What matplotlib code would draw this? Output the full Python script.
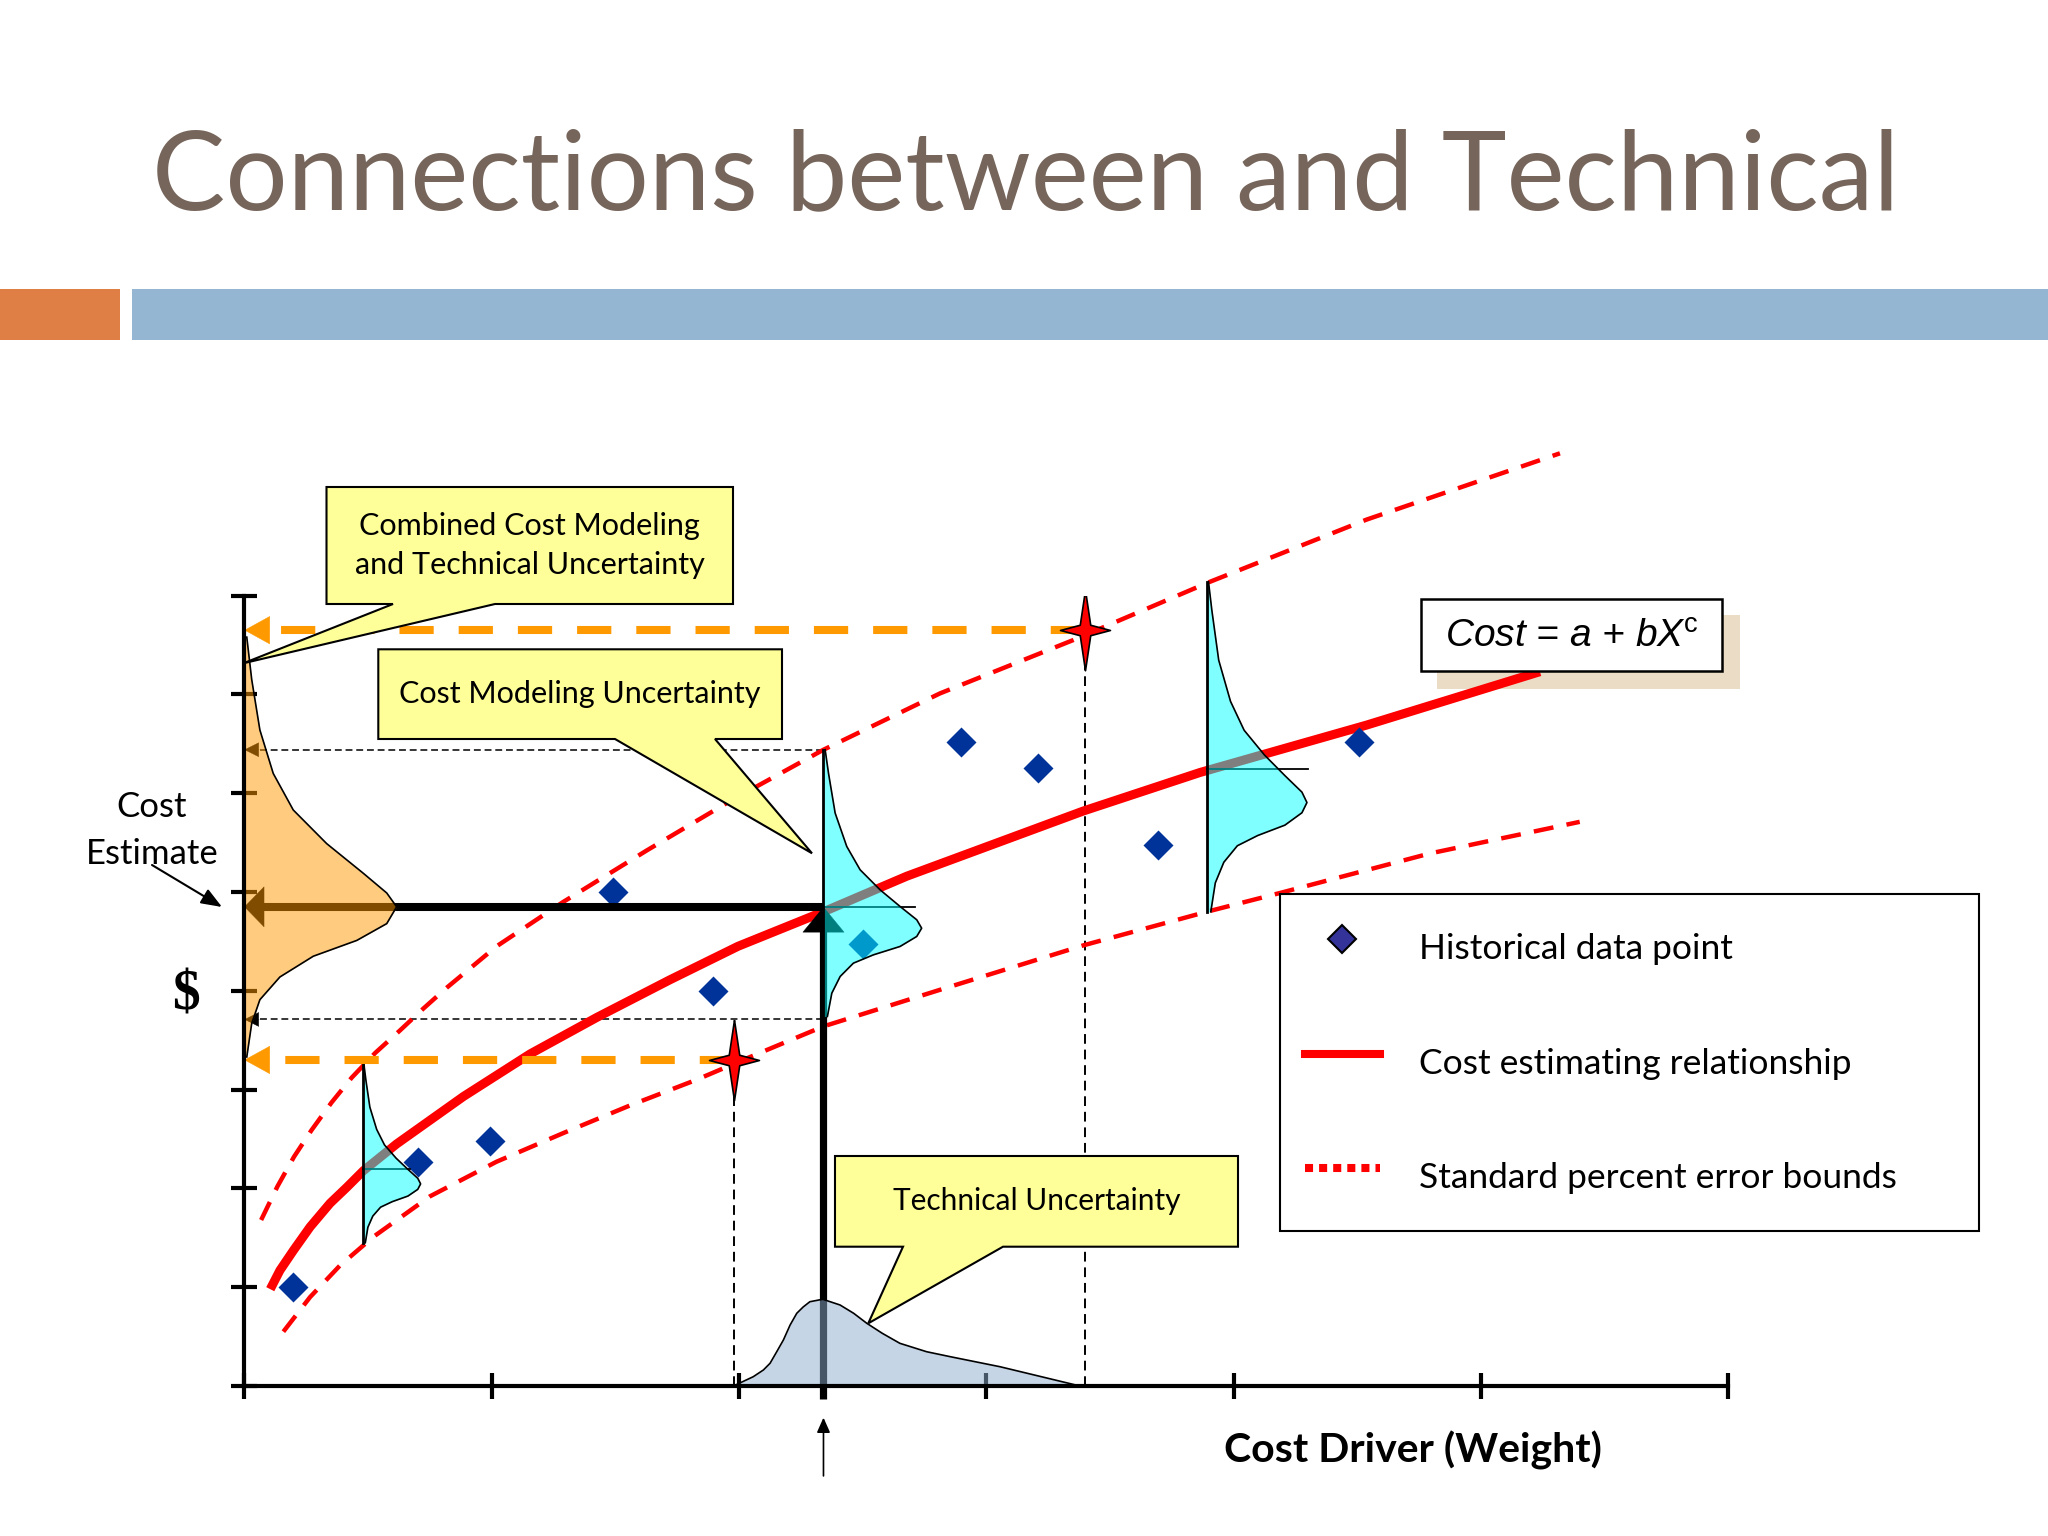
import numpy as np
import matplotlib
matplotlib.use('Agg')
import matplotlib.pyplot as plt
from matplotlib.patches import Rectangle, Polygon
from matplotlib.lines import Line2D

plt.rcParams['font.family'] = ['Lato', 'DejaVu Sans']
plt.rcParams['mathtext.fontset'] = 'custom'
plt.rcParams['mathtext.it'] = 'Liberation Sans'
plt.rcParams['mathtext.rm'] = 'Liberation Sans'

# ---------------- data (x: driver ticks 0..6, y: $ ticks 0..8) ----------------
# historical data points
hist_x = [0.196, 0.704, 0.994, 1.492, 1.894, 2.50, 2.898, 3.211, 3.693, 4.509]
hist_y = [1.005, 2.27, 2.48, 5.00, 4.00, 4.47, 6.52, 6.26, 5.48, 6.52]

# cost estimating relationship (Cost = a + bX^c), points along the red curve
cer_x = [0.105, 0.144, 0.198, 0.266, 0.347, 0.414, 0.482, 0.616, 0.886, 1.155, 1.425, 1.72, 1.996, 2.342,
         2.679, 3.393, 3.865, 4.539, 5.239]
cer_y = [0.98, 1.17, 1.37, 1.61, 1.85, 2.01, 2.18, 2.45, 2.93, 3.36, 3.73, 4.11, 4.45, 4.80,
         5.16, 5.82, 6.21, 6.69, 7.23]

# standard percent error bounds
up_x = [0.068, 0.134, 0.201, 0.272, 0.353, 0.434, 0.529, 0.63, 0.724, 0.818, 1.02, 1.29, 1.627, 1.964, 2.342, 2.813, 3.352, 3.905, 4.539, 5.32]
up_y = [1.68, 2.02, 2.32, 2.59, 2.87, 3.12, 3.37, 3.60, 3.82, 4.03, 4.45, 4.90, 5.42, 5.92, 6.44, 7.01, 7.55, 8.14, 8.77, 9.44]
lo_x = [0.158, 0.266, 0.387, 0.522, 0.751, 1.02, 1.29, 1.56, 1.829, 2.045, 2.342, 2.813, 3.393, 3.892, 4.188, 4.794, 5.40]
lo_y = [0.55, 0.90, 1.22, 1.51, 1.92, 2.27, 2.56, 2.84, 3.10, 3.33, 3.64, 4.01, 4.46, 4.80, 4.99, 5.39, 5.71]

# point estimate and the two combined extremes (stars)
est_x, est_y = 2.342, 4.85
star_x = [1.98, 3.40]
star_y = [3.30, 7.65]
cmu_y = [6.44, 3.71]          # cost modeling uncertainty limits at the estimate

# cost modeling uncertainty distributions (shape profile, then placement)
cyan_u = [0.0, 0.0875, 0.15, 0.2, 0.231, 0.2625, 0.30, 0.331, 0.3625, 0.4125, 0.475, 0.55, 0.6375, 0.7625, 0.9125, 1.0]
cyan_w = [0.04, 0.085, 0.17, 0.305, 0.508, 0.78, 0.95, 1.0, 0.95, 0.78, 0.576, 0.373, 0.237, 0.119, 0.051, 0.017]
cyan_base = [0.48, 2.342, 3.892]
cyan_bot = [1.45, 3.74, 4.80]
cyan_top = [3.25, 6.44, 8.14]
cyan_width = [0.233, 0.397, 0.405]
cyan_mid = [2.20, 4.85, 6.25]
cyan_midlen = [0.19, 0.37, 0.41]

# combined distribution on the cost axis
orange_y = [3.33, 3.67, 3.91, 4.14, 4.35, 4.51, 4.68, 4.85, 4.99, 5.19, 5.49, 5.83, 6.20, 6.64, 7.15, 7.58]
orange_w = [0.01, 0.03, 0.063, 0.144, 0.279, 0.455, 0.576, 0.616, 0.576, 0.481, 0.333, 0.198, 0.117, 0.063, 0.03, 0.01]

# technical uncertainty distribution on the driver axis
tech_x = [1.978, 2.058, 2.099, 2.126, 2.153, 2.18, 2.207, 2.234, 2.26, 2.287, 2.339, 2.409, 2.464, 2.517, 2.58, 2.651, 2.759, 2.854, 3.056, 3.379]
tech_h = [0.0, 0.094, 0.162, 0.23, 0.347, 0.466, 0.617, 0.736, 0.80, 0.853, 0.878, 0.82, 0.736, 0.635, 0.533, 0.432, 0.347, 0.297, 0.195, 0.0]

legend_labels = ['Historical data point', 'Cost estimating relationship', 'Standard percent error bounds']
title = 'Connections between and Technical'

# ---------------- figure ----------------
W, H = 2048, 1536
fig = plt.figure(figsize=(W / 100, H / 100), dpi=100)
fig.patch.set_facecolor('white')

ax = fig.add_axes([244.3 / W, 1 - 1386 / H, 6 * 247.3 / W, 8 * 98.8 / H], zorder=1)
ax.set_xlim(0, 6)
ax.set_ylim(0, 8)
ax.patch.set_alpha(0)
for s in ['top', 'right']:
    ax.spines[s].set_visible(False)
for s in ['left', 'bottom']:
    ax.spines[s].set_linewidth(3)
    ax.spines[s].set_zorder(9)
ax.set_xticks(range(7))
ax.set_yticks(range(9))
ax.tick_params(direction='inout', length=19, width=3, labelbottom=False, labelleft=False)

RED = '#FF0000'
ORANGE = '#FF9900'

# thin dashed guide lines
for y in cmu_y:
    ax.plot([est_x, 0.05], [y, y], color='black', lw=1.1, ls=(0, (4.5, 2.5)), zorder=2)
    ax.annotate('', xy=(0, y), xytext=(0.06, y), annotation_clip=False,
                arrowprops=dict(arrowstyle='-|>,head_length=1.0,head_width=0.5', mutation_scale=10,
                                color='black', lw=0.3, shrinkA=0, shrinkB=0), zorder=2)
for sx, sy in zip(star_x, star_y):
    ax.plot([sx, sx], [0, sy], color='black', lw=1.4, ls=(0, (5, 3)), zorder=2)

# CER and bounds
ax.plot(up_x, up_y, color=RED, lw=3.2, ls=(0, (4.5, 3)), clip_on=False, zorder=3)
ax.plot(lo_x, lo_y, color=RED, lw=3.2, ls=(0, (4.5, 3)), clip_on=False, zorder=3)
ax.plot(cer_x, cer_y, color=RED, lw=6.5, solid_capstyle='butt', solid_joinstyle='round', zorder=3)

# historical points
ax.plot(hist_x, hist_y, ls='none', marker='D', ms=15, color='#003399', mec='none', zorder=4)

# orange dashed arrows back to the cost axis
for sx, sy in zip(star_x, star_y):
    ax.plot([sx, 0.09], [sy, sy], color=ORANGE, lw=5.8, ls=(0, (4.25, 3.1)), zorder=4)
    ax.annotate('', xy=(0, sy), xytext=(0.1, sy), annotation_clip=False,
                arrowprops=dict(arrowstyle='-|>,head_length=1.0,head_width=0.55', mutation_scale=18,
                                color=ORANGE, lw=0.3, shrinkA=0, shrinkB=0), zorder=4)

# thick black estimate lines
ax.plot([est_x, 0.06], [est_y, est_y], color='black', lw=5.8, solid_capstyle='butt', zorder=5)
ax.annotate('', xy=(0, est_y), xytext=(0.08, est_y), annotation_clip=False,
            arrowprops=dict(arrowstyle='-|>,head_length=0.7,head_width=0.72', mutation_scale=20,
                            color='black', lw=0.3, shrinkA=0, shrinkB=0), zorder=5)
ax.plot([est_x, est_x], [-0.13, est_y - 0.2], color='black', lw=5.2, solid_capstyle='butt',
        clip_on=False, zorder=5)
ax.annotate('', xy=(est_x, est_y), xytext=(est_x, est_y - 0.3), annotation_clip=False,
            arrowprops=dict(arrowstyle='-|>,head_length=0.9,head_width=0.74', mutation_scale=20,
                            color='black', lw=0.3, shrinkA=0, shrinkB=0), zorder=5)
ax.annotate('', xy=(est_x, -0.32), xytext=(est_x, -0.91), annotation_clip=False,
            arrowprops=dict(arrowstyle='-|>,head_length=0.9,head_width=0.4', mutation_scale=10,
                            color='black', lw=1.2, shrinkA=0, shrinkB=0))

# stars at the combined extremes
star = [(0, 1), (0.13, 0.13), (0.62, 0), (0.13, -0.13), (0, -1), (-0.13, -0.13), (-0.62, 0), (-0.13, 0.13), (0, 1)]
ax.plot(star_x, star_y, ls='none', marker=star, ms=58, mfc=RED, mec='black', mew=1.2, zorder=6)

# cost modeling uncertainty distributions
for base, bot, top, width, mid, mlen in zip(cyan_base, cyan_bot, cyan_top, cyan_width, cyan_mid, cyan_midlen):
    yy = bot + np.array(cyan_u) * (top - bot)
    xx = base + np.array(cyan_w) * width
    ax.plot([base, base + mlen], [mid, mid], color='black', lw=1.3, zorder=6)
    ax.fill_betweenx(yy, base, xx, color='#00FFFF', alpha=0.5, lw=0, zorder=7, clip_on=False)
    ax.plot(xx, yy, color='black', lw=1.2, zorder=8, clip_on=False)
    ax.plot([base, base], [bot, top], color='black', lw=2, zorder=8, clip_on=False)

# combined distribution
ax.fill_betweenx(orange_y, 0, orange_w, color=ORANGE, alpha=0.5, lw=0, zorder=7)
ax.plot(orange_w, orange_y, color='black', lw=1.2, zorder=8)

# technical distribution
ax.fill_between(tech_x, 0, tech_h, color='#8DACCD', alpha=0.5, lw=0, zorder=7)
ax.plot(tech_x, tech_h, color='black', lw=1.2, zorder=8)

# legend
handles = [Line2D([], [], ls='none', marker='D', ms=14, mfc='#333399', mec='black', mew=1.5),
           Line2D([], [], color=RED, lw=5.8),
           Line2D([], [], color=RED, lw=5.8, ls=(0, (1, 0.75)))]
leg = ax.legend(handles, legend_labels, loc='upper left',
                bbox_to_anchor=(1280.4 / W, 1 - 894.3 / H, 698.6 / W, 0), bbox_transform=fig.transFigure,
                mode='expand', borderaxespad=0, fontsize=25.5, handlelength=2.1, handletextpad=1.1,
                handleheight=2.16, labelspacing=1.58, borderpad=0.7, fancybox=False, framealpha=1,
                edgecolor='black')
leg.get_frame().set_linewidth(1.5)
leg.set_zorder(10)

# ---------------- decorations in pixel space ----------------
deco = fig.add_axes([0, 0, 1, 1], zorder=3)
deco.set_xlim(0, W)
deco.set_ylim(H, 0)
deco.axis('off')

deco.text(1026, 209, title, ha='center', va='baseline', fontsize=79, color='#76655B')
deco.add_patch(Rectangle((0, 289), 120, 51, color='#E07F45', lw=0))
deco.add_patch(Rectangle((132, 289), W - 132, 51, color='#94B6D2', lw=0))


def callout(box, base, tip, text, fs):
    x0, y0, x1, y1 = box
    verts = [(x0, y0), (x1, y0), (x1, y1), (base[1], y1), tip, (base[0], y1), (x0, y1)]
    deco.add_patch(Polygon(verts, closed=True, fc='#FFFF99', ec='black', lw=1.5, joinstyle='miter'))
    deco.text((x0 + x1) / 2, (y0 + y1) / 2, text, ha='center', va='center', fontsize=fs, linespacing=1.45)


callout((326.5, 487, 733, 604), (393, 495), (243.3, 663.3), 'Combined Cost Modeling\nand Technical Uncertainty', 22)
callout((378.3, 649.3, 782, 739), (615, 715), (812, 853.3), 'Cost Modeling Uncertainty', 22)
callout((835, 1156, 1238, 1246.7), (903, 1003), (868.3, 1323.3), 'Technical Uncertainty', 21.5)

deco.text(152, 817, 'Cost', ha='center', va='baseline', fontsize=25)
deco.text(152, 864, 'Estimate', ha='center', va='baseline', fontsize=25)
deco.annotate('', xy=(222, 907), xytext=(152, 865),
              arrowprops=dict(arrowstyle='-|>,head_length=0.9,head_width=0.35', mutation_scale=14,
                              color='black', lw=1.5, shrinkA=0, shrinkB=0))
deco.text(186, 996, '$', ha='center', va='center', fontsize=40, fontweight='bold', family='Liberation Serif')
deco.text(1413, 1463, 'Cost Driver (Weight)', ha='center', va='baseline', fontsize=29.5, fontweight='bold')

# formula box: the shadow sits under the curve, the box above it
ax.add_patch(Rectangle((1437, 615), 303, 74, fc='#EBDDC5', lw=0, transform=deco.transData,
                       clip_on=False, zorder=2))
ax.add_patch(Rectangle((1421, 599), 301, 72, fc='white', ec='black', lw=1.8, transform=deco.transData,
                       clip_on=False, zorder=9))
ax.text(1445, 637, 'Cost = a + bX$^{c}$', ha='left', va='center', fontsize=28, fontstyle='italic',
        family='Liberation Sans', transform=deco.transData, zorder=10)

fig.savefig('out.png', dpi=100, facecolor='white')
